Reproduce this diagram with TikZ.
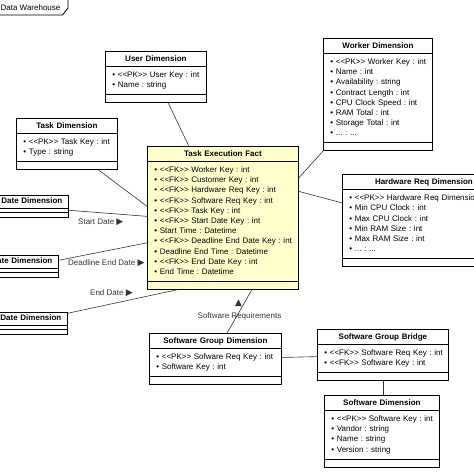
\documentclass[tikz,border=0pt]{standalone}
\usepackage{fontspec}
\setmainfont{Liberation Sans}
\newfontfamily\symfont{DejaVu Sans}
\usetikzlibrary{shapes.multipart,positioning}
\setlength{\parindent}{0pt}
\frenchspacing
\definecolor{factyellow}{RGB}{255,255,204}
\newcommand{\umlfont}{\fontsize{8}{10.2}\selectfont\frenchspacing}
\newcommand{\classname}[1]{\makebox[\hsize]{\rule[-1.5pt]{0pt}{6.5pt}\bfseries #1}}
\newcommand{\datename}[1]{\makebox[\hsize]{\rule[-3pt]{0pt}{8.5pt}\bfseries #1}}
\newcommand{\attrrow}[1]{\mbox{\strut• #1}}
\newcommand{\pkey}{<\kern0pt<PK>\kern0pt>}
\newcommand{\fkey}{<\kern0pt<FK>\kern0pt>}
\newcommand{\tri}[1]{{\fontsize{9}{10}\symfont #1}}
\newcommand{\nopart}{\vbox to 0pt{}}
\tikzstyle{class_box} = [rectangle split, rectangle split parts=3, draw, line width=0.8pt, fill=white, inner xsep=7pt, inner ysep=3.5pt, font=\umlfont, anchor=north west, rectangle split empty part height=0pt, rectangle split empty part depth=0pt]
\tikzstyle{class_date} = [class_box, inner xsep=4pt, inner ysep=1.75pt, text width=65pt]
\tikzstyle{class_fact} = [class_box, fill=factyellow]
\tikzstyle{edge_normal} = [line width=0.6pt, black!80]
\tikzstyle{edge_label} = [font=\umlfont, text=black!80, inner sep=0pt]

\begin{document}
\begin{tikzpicture}[x=1pt,y=-1pt]
\useasboundingbox (0,0) rectangle (474,474);
\clip (0,0) rectangle (474,474);
\node (frame) at (30.5,8) [edge_label, text=black] {Data Warehouse};
\draw[line width=0.8pt] (-2,-1) -- (68,-1) -- (68,8) -- (62.5,15) -- (-2,15);

\node (user) at (105,51) [class_box, text width=87pt] {\classname{User Dimension}
  \nodepart{two}\attrrow{\pkey{} User Key : int}\\
  \attrrow{Name : string}
  \nodepart{three}\nopart};
\node (worker) at (323,38) [class_box, text width=95pt] {\classname{Worker Dimension}
  \nodepart{two}\attrrow{\pkey{} Worker Key : int}\\
  \attrrow{Name : int}\\
  \attrrow{Availability : string}\\
  \attrrow{Contract Length : int}\\
  \attrrow{CPU Clock Speed : int}\\
  \attrrow{RAM Total : int}\\
  \attrrow{Storage Total : int}\\
  \attrrow{... : ...}
  \nodepart{three}\nopart};
\node (task) at (16,118) [class_box, text width=87pt] {\classname{Task Dimension}
  \nodepart{two}\attrrow{\pkey{} Task Key : int}\\
  \attrrow{Type : string}
  \nodepart{three}\nopart};
\node (fact) at (147,146) [class_fact, text width=137pt] {\classname{Task Execution Fact}
  \nodepart{two}\attrrow{\fkey{} Worker Key : int}\\
  \attrrow{\fkey{} Customer Key : int}\\
  \attrrow{\fkey{} Hardware Req Key : int}\\
  \attrrow{\fkey{} Software Req Key : int}\\
  \attrrow{\fkey{} Task Key : int}\\
  \attrrow{\fkey{} Start Date Key : int}\\
  \attrrow{Start Time : Datetime}\\
  \attrrow{\fkey{} Deadline End Date Key : int}\\
  \attrrow{Deadline End Time : Datetime}\\
  \attrrow{\fkey{} End Date Key : int}\\
  \attrrow{End Time : Datetime}
  \nodepart{three}\nopart};
\node (hardware) at (342,174) [class_box, text width=149pt] {\classname{Hardware Req Dimension}
  \nodepart{two}\attrrow{\pkey{} Hardware Req Dimension Key : int}\\
  \attrrow{Min CPU Clock : int}\\
  \attrrow{Max CPU Clock : int}\\
  \attrrow{Min RAM Size : int}\\
  \attrrow{Max RAM Size : int}\\
  \attrrow{... : ...}
  \nodepart{three}\nopart};
\node (start_date) at (-5,195) [class_date] {\datename{Date Dimension}\nodepart{two}\nopart\nodepart{three}\nopart};
\node (deadline_date) at (-15,255) [class_date] {\datename{Date Dimension}\nodepart{two}\nopart\nodepart{three}\nopart};
\node (end_date) at (-6,312) [class_date] {\datename{Date Dimension}\nodepart{two}\nopart\nodepart{three}\nopart};
\node (sw_group) at (149,333) [class_box, text width=118pt] {\classname{Software Group Dimension}
  \nodepart{two}\attrrow{\pkey{} Sofware Req Key : int}\\
  \attrrow{Software Key : int}
  \nodepart{three}\nopart};
\node (sw_bridge) at (317,329) [class_box, text width=117pt] {\classname{Software Group Bridge}
  \nodepart{two}\attrrow{\fkey{} Software Req Key : int}\\
  \attrrow{\fkey{} Software Key : int}
  \nodepart{three}\nopart};
\node (software) at (324,395) [class_box, text width=101pt] {\classname{Software Dimension}
  \nodepart{two}\attrrow{\pkey{} Software Key : int}\\
  \attrrow{Vandor : string}\\
  \attrrow{Name : string}\\
  \attrrow{Version : string}
  \nodepart{three}\nopart};

\node (start_label) at (78,224.5) [edge_label, anchor=base west] {Start Date \tri{▶}};
\node (deadline_label) at (68,265) [edge_label, anchor=base west] {Deadline End Date \tri{▶}};
\node (end_label) at (90,295) [edge_label, anchor=base west] {End Date \tri{▶}};
\node (swreq_label) at (239.5,316.7) [edge_label] {Software Requirements};
\node (swreq_mark) at (238.5,303.5) [edge_label] {\tri{▲}};

\draw[edge_normal] (user) -- (fact);
\draw[edge_normal] (worker.south west) -- ([yshift=40pt]fact.east);
\draw[edge_normal] ([yshift=17.5pt]hardware.west) -- ([yshift=26.5pt]fact.east);
\draw[edge_normal] ([xshift=31.5pt]task.south) -- ([yshift=11.5pt]fact.west);
\draw[edge_normal] ([yshift=-4pt]start_date.east) -- ([yshift=1.5pt]fact.west);
\draw[edge_normal] ([yshift=6pt]deadline_date.east) -- ([yshift=-25pt]fact.west);
\draw[edge_normal] ([yshift=10pt]end_date.east) -- ([xshift=-45.5pt]fact.south);
\draw[edge_normal] ([xshift=11.7pt]sw_group.north) -- ([xshift=29pt]fact.south);
\draw[edge_normal] (sw_group) -- (sw_bridge);
\draw[edge_normal] (sw_bridge.south) -- (sw_bridge.south |- software.north);
\end{tikzpicture}
\end{document}
